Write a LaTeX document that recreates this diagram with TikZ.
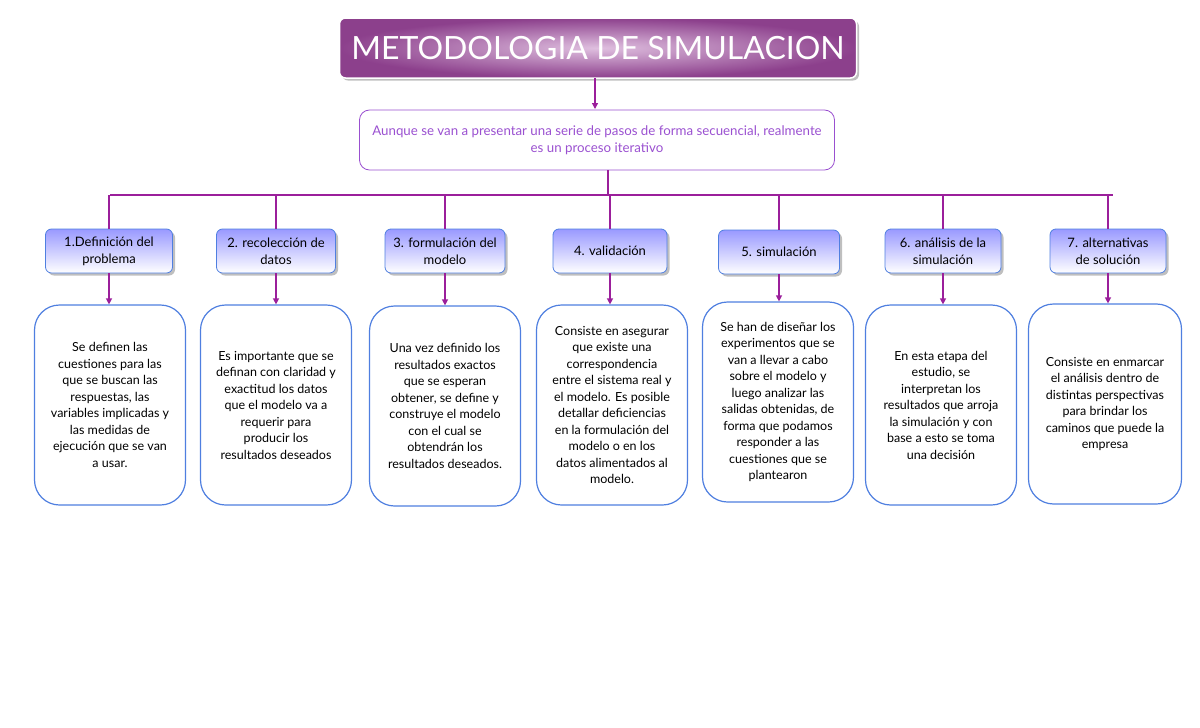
\documentclass[tikz,border=0pt]{standalone}
\usepackage{fontspec}
\setmainfont{Lato}
\usetikzlibrary{shadows,arrows.meta}
\definecolor{pur}{HTML}{9B1F9B}
\definecolor{bl}{HTML}{4F7FE0}
\definecolor{subc}{HTML}{9A50D0}
\tikzset{
 titlebox/.style={rounded corners=6pt,draw=white,line width=1.5pt,inner color=violet!25!white,outer color=violet!80!black!75,text=white,font=\fontsize{32}{36}\selectfont,minimum width=517pt,minimum height=60pt,drop shadow},
 subbox/.style={rounded corners=10pt,draw=subc,line width=0.8pt,text=subc,font=\fontsize{13.3}{17}\selectfont,minimum width=475pt,minimum height=60pt,align=center,inner xsep=2pt},
 stepbox/.style={rounded corners=6pt,draw=bl,line width=0.8pt,top color=blue!40!white,bottom color=white,font=\fontsize{13}{17}\selectfont,minimum height=44pt,align=center,drop shadow},
 descbox/.style={rounded corners=25pt,draw=bl,line width=1.2pt,fill=white,minimum width=151pt,minimum height=200pt,align=center,font=\fontsize{12.5}{16.5}\selectfont},
 conn/.style={pur,line width=1.3pt},
 arr/.style={conn,-{Triangle[length=6pt,width=6pt]}}
}
\begin{document}
\begin{tikzpicture}[x=1pt,y=-1pt]
\useasboundingbox (0,0) rectangle (1200,728);
\node[titlebox] (t) at (598,48) {METODOLOGIA DE SIMULACION};
\node[subbox] (s) at (597,140) {Aunque se van a presentar una serie de pasos de forma secuencial, realmente\\es un proceso iterativo};
\draw[arr] (595,78) -- (595,109);
\coordinate (h) at (608,195);
\draw[conn] (608,170) -- (h);
\draw[conn] (110,195) -- (1113,195);
\foreach \n/\x/\y/\w/\tx in {
1/109/251/127/{1.Definición del\\problema},
2/276/251/119/{2. recolección de\\datos},
3/445/251/120/{3. formulación del\\modelo},
4/610/251/114/{4. validación},
5/779/252/121/{5. simulación},
6/943/251/116/{6. análisis de la\\simulación},
7/1108/251/116/{7. alternativas\\de solución}}
{
 \node[stepbox,minimum width=\w pt] (p\n) at (\x,\y) {\tx};
 \draw[conn] (p\n.north|-h) -- (p\n.north);
}
\node[descbox] (d1) at (110,405) {Se definen las\\cuestiones para las\\que se buscan las\\respuestas, las\\variables implicadas y\\las medidas de\\ejecución que se van\\a usar.};
\node[descbox] (d2) at (276,405) {Es importante que se\\definan con claridad y\\exactitud los datos\\que el modelo va a\\requerir para\\producir los\\resultados deseados};
\node[descbox] (d3) at (445,406) {Una vez definido los\\resultados exactos\\que se esperan\\obtener, se define y\\construye el modelo\\con el cual se\\obtendrán los\\resultados deseados.};
\node[descbox] (d4) at (612,405) {Consiste en asegurar\\que existe una\\correspondencia\\entre el sistema real y\\el modelo. Es posible\\detallar deficiencias\\en la formulación del\\modelo o en los\\datos alimentados al\\modelo.};
\node[descbox] (d5) at (778,402) {Se han de diseñar los\\experimentos que se\\van a llevar a cabo\\sobre el modelo y\\luego analizar las\\salidas obtenidas, de\\forma que podamos\\responder a las\\cuestiones que se\\plantearon};
\node[descbox] (d6) at (941,405) {En esta etapa del\\estudio, se\\interpretan los\\resultados que arroja\\la simulación y con\\base a esto se toma\\una decisión};
\node[descbox,minimum width=153pt] (d7) at (1105,404) {Consiste en enmarcar\\el análisis dentro de\\distintas perspectivas\\para brindar los\\caminos que puede la\\empresa};
\foreach \n in {1,...,7}{\draw[arr] (p\n.south) -- (p\n.south|-d\n.north);}
\end{tikzpicture}
\end{document}
